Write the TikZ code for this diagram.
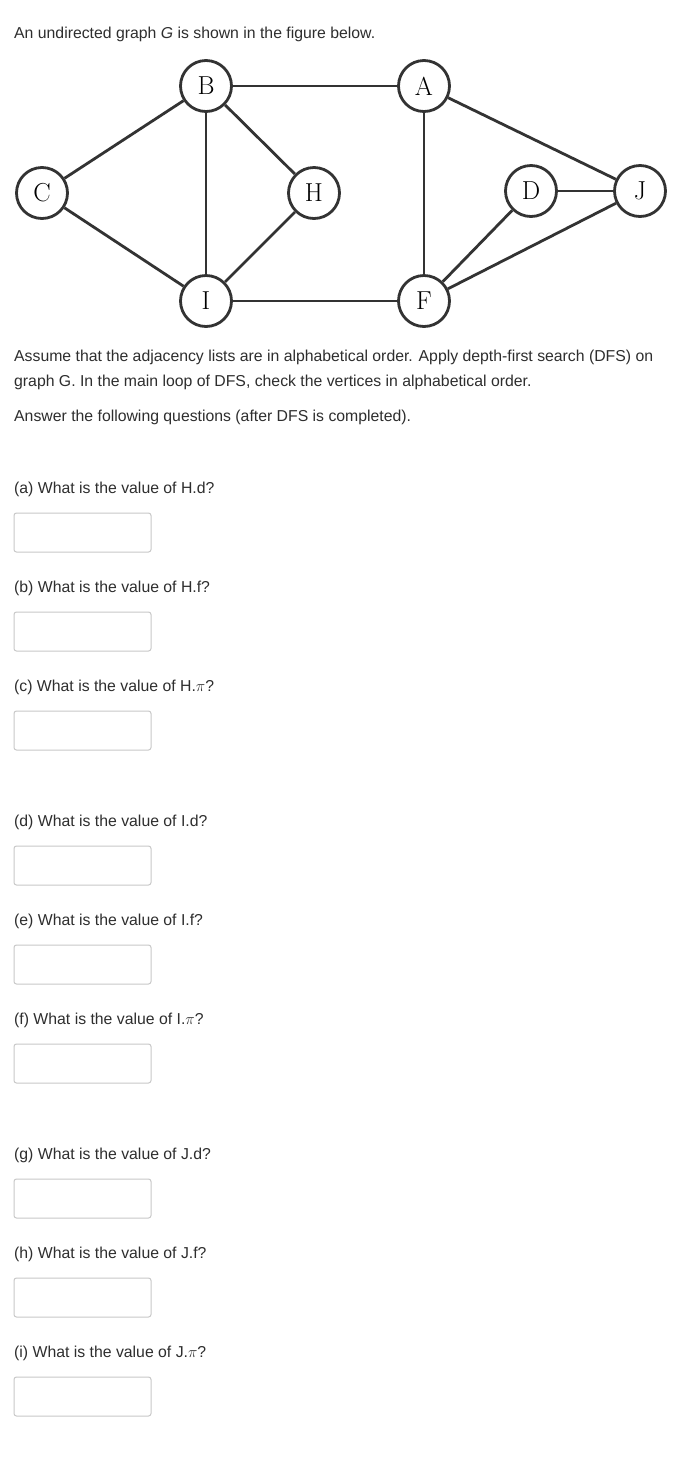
\RequirePackage{fix-cm}
\documentclass[tikz,border=0pt]{standalone}
\usepackage{fontspec}
\setsansfont{Liberation Sans}
\begin{document}
\begin{tikzpicture}[x=1pt,y=-1pt,
  vtx/.style={circle,draw=edgecol,line width=2.8pt,minimum size=51pt,inner sep=0pt,fill=white,font=\fontsize{26}{26}\selectfont},
  edge/.style={draw=edgecol,line width=2.8pt},
  txt/.style={anchor=base west,inner sep=0pt,text=txtcol,font=\sffamily\fontsize{15.8}{18}\selectfont},
  ansbox/.style={draw=boxcol,line width=1pt,rounded corners=2.5pt}]
\definecolor{edgecol}{HTML}{333333}
\definecolor{txtcol}{HTML}{2E2E2E}
\definecolor{boxcol}{HTML}{C8C8C8}
\useasboundingbox[fill=white] (0,0) rectangle (680,1468);

\node[txt] (t1) at (14,38) {An undirected graph \textit{G} is shown in the figure below.};

\node[vtx] (B) at (206,86) {B};
\node[vtx] (A) at (424,86) {A};
\node[vtx] (C) at (42,193) {C};
\node[vtx] (H) at (314,193) {H};
\node[vtx] (D) at (531,191) {D};
\node[vtx] (J) at (640,191) {J};
\node[vtx] (I) at (206,301) {I};
\node[vtx] (F) at (424,301) {F};

\draw[edge] (B) -- (A);
\draw[edge] (B) -- (C);
\draw[edge] (B) -- (I);
\draw[edge] (B) -- (H);
\draw[edge] (C) -- (I);
\draw[edge] (H) -- (I);
\draw[edge] (I) -- (F);
\draw[edge] (A) -- (F);
\draw[edge] (A) -- (J);
\draw[edge] (D) -- (J);
\draw[edge] (D) -- (F);
\draw[edge] (F) -- (J);

\node[txt] (t2) at (14,361) {Assume that the adjacency lists are in alphabetical order. Apply depth-first search (DFS) on};
\node[txt] (t3) at (14,386) {graph G. In the main loop of DFS, check the vertices in alphabetical order.};
\node[txt] (t4) at (14,421) {Answer the following questions (after DFS is completed).};

\node[txt] (qa) at (14,493) {(a) What is the value of H.d?};
\draw[ansbox] (14,513) rectangle (151,552);
\node[txt] (qb) at (14,592) {(b) What is the value of H.f?};
\draw[ansbox] (14,612) rectangle (151,651);
\node[txt] (qc) at (14,691) {(c) What is the value of H.$\pi$?};
\draw[ansbox] (14,711) rectangle (151,750);
\node[txt] (qd) at (14,826) {(d) What is the value of I.d?};
\draw[ansbox] (14,846) rectangle (151,885);
\node[txt] (qe) at (14,925) {(e) What is the value of I.f?};
\draw[ansbox] (14,945) rectangle (151,984);
\node[txt] (qf) at (14,1024) {(f) What is the value of I.$\pi$?};
\draw[ansbox] (14,1044) rectangle (151,1083);
\node[txt] (qg) at (14,1159) {(g) What is the value of J.d?};
\draw[ansbox] (14,1179) rectangle (151,1218);
\node[txt] (qh) at (14,1258) {(h) What is the value of J.f?};
\draw[ansbox] (14,1278) rectangle (151,1317);
\node[txt] (qi) at (14,1357) {(i) What is the value of J.$\pi$?};
\draw[ansbox] (14,1377) rectangle (151,1416);
\end{tikzpicture}
\end{document}
